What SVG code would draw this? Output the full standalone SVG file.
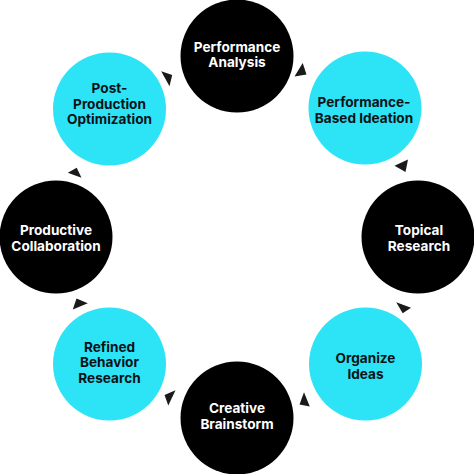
<svg xmlns="http://www.w3.org/2000/svg" width="474" height="474" viewBox="0 0 474 474">
<style>
.dark{fill:#000000}
.cyan{fill:#2CE4F6}
.t{font-family:"Inter","Noto Sans",sans-serif;font-weight:700;font-size:13.6px;text-anchor:middle}
.tw{fill:#ffffff}
.tb{fill:#0b1216}
.arr{fill:#1a1a1a}
</style>
<rect width="474" height="474" fill="#ffffff"/>
<g id="connectors">
<polygon class="arr" points="302.7,63 294.5,76.5 306.5,74.5"/>
<polygon class="arr" points="394.5,165.7 408,159.5 405.5,172"/>
<polygon class="arr" points="396.2,302.2 411,307.7 402.7,313.2"/>
<polygon class="arr" points="304,392.2 299.5,404.5 309.8,406.5"/>
<polygon class="arr" points="164.5,395 175.5,390.2 168.3,405.5"/>
<polygon class="arr" points="76.5,298.5 87.8,303.3 72.8,309.5"/>
<polygon class="arr" points="67.8,172.7 76.7,167.8 81.5,177.8"/>
<polygon class="arr" points="161.2,71.2 172.2,75 169.5,86.2"/>
</g>
<g id="performance-analysis">
<circle class="dark" cx="237" cy="56" r="56.5"/>
<text class="t tw" x="237" y="52">Performance</text>
<text class="t tw" x="237" y="67">Analysis</text>
</g>
<g id="performance-based-ideation">
<circle class="cyan" cx="365" cy="108" r="56.5"/>
<text class="t tb" x="364" y="107">Performance-</text>
<text class="t tb" x="364" y="122.5">Based Ideation</text>
</g>
<g id="topical-research">
<circle class="dark" cx="418" cy="237" r="56.5"/>
<text class="t tw" x="419" y="235">Topical</text>
<text class="t tw" x="419" y="250.5">Research</text>
</g>
<g id="organize-ideas">
<circle class="cyan" cx="365.5" cy="364" r="56.5"/>
<text class="t tb" x="365.5" y="363.3">Organize</text>
<text class="t tb" x="365.5" y="378.5">Ideas</text>
</g>
<g id="creative-brainstorm">
<circle class="dark" cx="237" cy="418" r="56.5"/>
<text class="t tw" x="237" y="413.3">Creative</text>
<text class="t tw" x="237" y="428.5">Brainstorm</text>
</g>
<g id="refined-behavior-research">
<circle class="cyan" cx="109.5" cy="364" r="56.5"/>
<text class="t tb" x="109.5" y="351.7">Refined</text>
<text class="t tb" x="109.5" y="367.4">Behavior</text>
<text class="t tb" x="109.5" y="383.2">Research</text>
</g>
<g id="productive-collaboration">
<circle class="dark" cx="56" cy="237" r="56.5"/>
<text class="t tw" x="56" y="235">Productive</text>
<text class="t tw" x="56" y="250.7">Collaboration</text>
</g>
<g id="post-production-optimization">
<circle class="cyan" cx="109.5" cy="109" r="56.5"/>
<text class="t tb" x="109.5" y="93">Post-</text>
<text class="t tb" x="109.5" y="108.7">Production</text>
<text class="t tb" x="109.5" y="124.4">Optimization</text>
</g>
</svg>
